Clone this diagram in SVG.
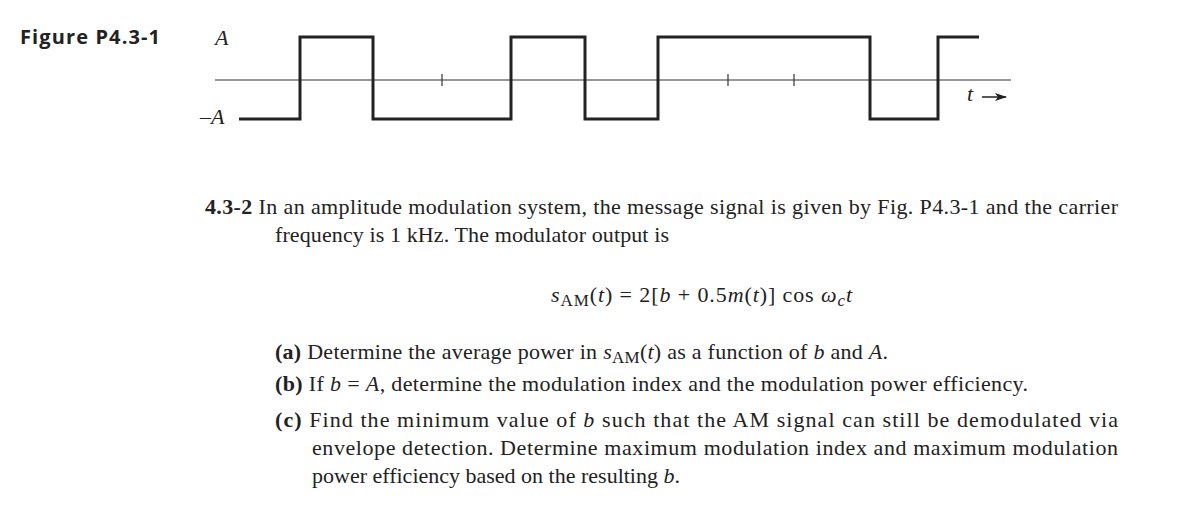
<svg xmlns="http://www.w3.org/2000/svg" width="1197" height="510" viewBox="0 0 1197 510">
<style>
.t{font-family:"Liberation Serif",serif;font-size:22px;fill:#222}
.i{font-style:italic}
.b{font-weight:bold}
.ax{stroke:#333;stroke-width:1.2;fill:none}
.sig{stroke:#222;stroke-width:3;fill:none}
</style>
<defs><marker id="ar" markerWidth="12" markerHeight="8" refX="11" refY="4" orient="auto" markerUnits="userSpaceOnUse"><path d="M0,0 L12,4 L0,8 L3,4 z" fill="#222"/></marker></defs>
<rect width="1197" height="510" fill="#fff"/>
<text x="20" y="44" style="font-family:'Open Sans',sans-serif;font-weight:bold;font-size:20px;fill:#222" textLength="140">Figure P4.3-1</text>
<g id="axis">
<line class="ax" x1="215" y1="80" x2="1011" y2="80"/>
<line class="ax" x1="442" y1="74" x2="442" y2="86"/>
<line class="ax" x1="728" y1="74" x2="728" y2="86"/>
<line class="ax" x1="794" y1="74" x2="794" y2="86"/>
<line stroke="#222" stroke-width="1.5" x1="982" y1="97" x2="1006" y2="97" marker-end="url(#ar)"/>
</g>
<g id="signal"><path class="sig" d="M239,119 H300 V37 H373 V119 H511 V37 H585 V119 H658 V37 H870 V119 H938 V37 H979"/></g>
<text class="t i" x="215" y="45">A</text>
<text class="t i" x="200" y="124">–A</text>
<text class="t i" x="967" y="101">t</text>
<g id="text">
<text class="t" x="205" y="214" textLength="913"><tspan class="b">4.3-2</tspan>  In an amplitude modulation system, the message signal is given by Fig. P4.3-1 and the carrier</text>
<text class="t" x="275" y="242" textLength="394">frequency is 1 kHz. The modulator output is</text>
<text class="t" x="551" y="302" textLength="301"><tspan class="i">s</tspan><tspan font-size="17" dy="4">AM</tspan><tspan dy="-4">(</tspan><tspan class="i">t</tspan>) = 2[<tspan class="i">b</tspan> + 0.5<tspan class="i">m</tspan>(<tspan class="i">t</tspan>)] cos <tspan class="i">ω</tspan><tspan class="i" font-size="17" dy="4">c</tspan><tspan class="i" dy="-4">t</tspan></text>
<text class="t" x="275" y="359" textLength="613"><tspan class="b">(a)</tspan> Determine the average power in <tspan class="i">s</tspan><tspan font-size="17" dy="4">AM</tspan><tspan dy="-4">(</tspan><tspan class="i">t</tspan>) as a function of <tspan class="i">b</tspan> and <tspan class="i">A</tspan>.</text>
<text class="t" x="275" y="391" textLength="753"><tspan class="b">(b)</tspan> If <tspan class="i">b</tspan> = <tspan class="i">A</tspan>, determine the modulation index and the modulation power efficiency.</text>
<text class="t" x="275" y="427" textLength="843"><tspan class="b">(c)</tspan> Find the minimum value of <tspan class="i">b</tspan> such that the AM signal can still be demodulated via</text>
<text class="t" x="312" y="455" textLength="806">envelope detection. Determine maximum modulation index and maximum modulation</text>
<text class="t" x="312" y="483">power efficiency based on the resulting <tspan class="i">b</tspan>.</text>
</g>
</svg>
